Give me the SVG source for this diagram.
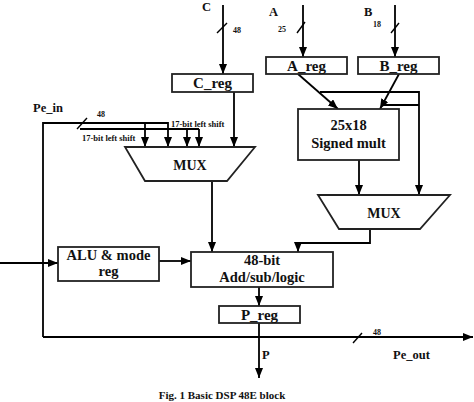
<svg xmlns="http://www.w3.org/2000/svg" width="474" height="402" viewBox="0 0 474 402">
<defs>
<marker id="ah" markerUnits="userSpaceOnUse" markerWidth="10" markerHeight="8" refX="10" refY="4" orient="auto">
<path d="M0,0 L10,4 L0,8 z" fill="#000"/>
</marker>
<style>
.box{fill:#fff;stroke:#222;stroke-width:1.8}
.ln{fill:none;stroke:#000;stroke-width:1.8}
.ar{fill:none;stroke:#000;stroke-width:1.8;marker-end:url(#ah)}
.sl{stroke:#000;stroke-width:1.4}
text{font-family:"Liberation Serif","Times New Roman",serif;font-weight:bold;fill:#111}
.t{font-size:14.5px;text-anchor:middle}
.s{font-size:8.5px}
.n{font-size:8px}
.l{font-size:12.5px}
</style>
</defs>
<rect width="474" height="402" fill="#fff"/>
<g id="connectors">
<path class="ar" d="M223,5 V74"/>
<path class="ar" d="M303,5 V57"/>
<path class="ar" d="M395,5 V57"/>
<path class="ar" d="M298,74 L338,109"/>
<path class="ar" d="M399,74 L380,109"/>
<path class="ar" d="M320,92 H419 V195"/>
<path class="ln" d="M382,105 H419"/>
<path class="ar" d="M359,160 V195"/>
<path class="ar" d="M370,229 V243 H298 V252"/>
<path class="ar" d="M234,92 V147"/>
<path class="ar" d="M43,337 V123 H168 V147"/>
<path class="ar" d="M145,123 V147"/>
<path class="ln" d="M80,129 H199"/>
<path class="ar" d="M187,129 V147"/>
<path class="ar" d="M199,129 V147"/>
<path class="ar" d="M212,181 V252"/>
<path class="ar" d="M0,263 H58"/>
<path class="ar" d="M159,261 H191"/>
<path class="ar" d="M259,287 V306"/>
<path class="ar" d="M259,323 V378"/>
<path class="ar" d="M43,337 H473"/>
<line class="sl" x1="217" y1="33" x2="227" y2="23"/>
<line class="sl" x1="297" y1="33" x2="305" y2="22"/>
<line class="sl" x1="391" y1="33" x2="399" y2="23"/>
<line class="sl" x1="77" y1="129" x2="87" y2="118"/>
<line class="sl" x1="353" y1="343" x2="362" y2="333"/>
</g>
<g id="labels">
<text class="l" x="202" y="11">C</text>
<text class="n" x="233" y="33">48</text>
<text class="l" x="269" y="16">A</text>
<text class="n" x="278" y="32">25</text>
<text class="l" x="364" y="16">B</text>
<text class="n" x="373" y="27">18</text>
<text class="l" x="33" y="112">Pe_in</text>
<text class="n" x="97" y="117">48</text>
<text class="s" x="171" y="127">17-bit left shift</text>
<text class="s" x="82" y="141">17-bit left shift</text>
<text class="l" x="262" y="359">P</text>
<text class="n" x="373" y="335">48</text>
<text class="l" x="393" y="359">Pe_out</text>
<text x="222" y="399" style="font-size:11px;text-anchor:middle">Fig. 1  Basic DSP 48E block</text>
</g>
<g id="C_reg">
<rect class="box" x="172" y="74" width="81" height="18"/>
<text class="t" x="212.5" y="88" style="font-size:15px">C_reg</text>
</g>
<g id="A_reg">
<rect class="box" x="266" y="57" width="81" height="17"/>
<text class="t" x="306.5" y="71" style="font-size:15px">A_reg</text>
</g>
<g id="B_reg">
<rect class="box" x="358" y="57" width="81" height="17"/>
<text class="t" x="398.5" y="71" style="font-size:15px">B_reg</text>
</g>
<g id="mult">
<rect class="box" x="298" y="109" width="101" height="51"/>
<text class="t" x="348.5" y="130">25x18</text>
<text class="t" x="348.5" y="148">Signed mult</text>
</g>
<g id="mux1">
<path class="box" d="M125,147 H255 L227,181 H145 Z"/>
<text class="t" x="190" y="170" style="font-size:14px">MUX</text>
</g>
<g id="mux2">
<path class="box" d="M318,195 H450 L420,229 H339 Z"/>
<text class="t" x="384" y="218" style="font-size:14px">MUX</text>
</g>
<g id="alu">
<rect class="box" x="58" y="247" width="101" height="34"/>
<text class="t" x="108.5" y="260">ALU &amp; mode</text>
<text class="t" x="108.5" y="276">reg</text>
</g>
<g id="adder">
<rect class="box" x="191" y="252" width="142" height="35"/>
<text class="t" x="262" y="265">48-bit</text>
<text class="t" x="262" y="282">Add/sub/logic</text>
</g>
<g id="P_reg">
<rect class="box" x="219" y="306" width="81" height="17"/>
<text class="t" x="259.5" y="320" style="font-size:15px">P_reg</text>
</g>
</svg>
